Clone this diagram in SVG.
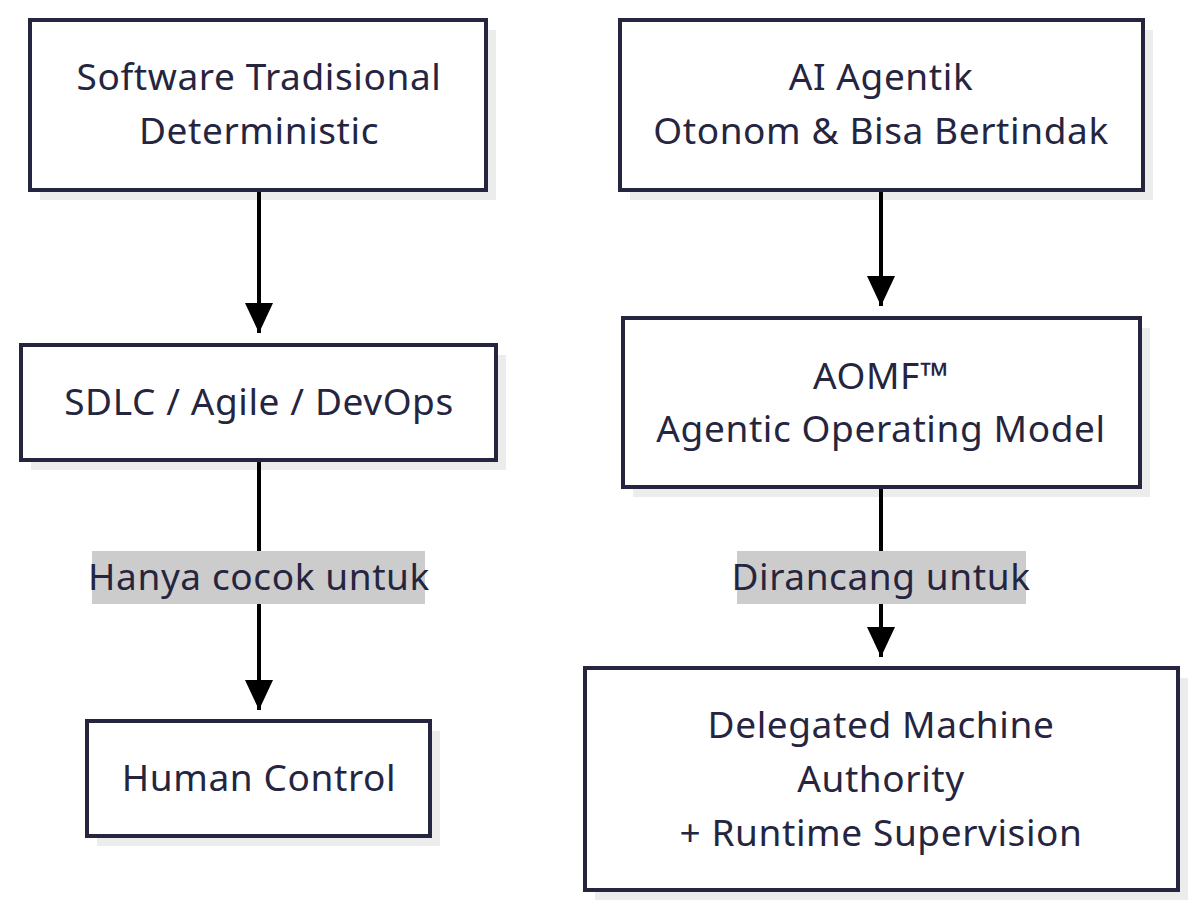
<svg xmlns="http://www.w3.org/2000/svg" width="1200" height="912" viewBox="0 0 1200 912">
<style>
.box{fill:#fff;stroke:#25253f;stroke-width:4}
.shadow{fill:#ececec}
.t{font-family:"Noto Sans","Open Sans",sans-serif;font-size:37px;letter-spacing:0.6px;fill:#25253f;text-anchor:middle}
.edge{stroke:#000;stroke-width:4;fill:none}
.lbl{fill:#cccccc}
</style>
<defs>
<marker id="ah" viewBox="0 0 30 28" refX="30" refY="14" markerWidth="30" markerHeight="28" markerUnits="userSpaceOnUse" orient="auto">
<path d="M0,0 L30,14 L0,28 Z" fill="#000"/>
</marker>
</defs>
<rect width="1200" height="912" fill="#fff"/>
<g id="n1">
<rect class="shadow" x="40" y="30" width="456" height="170"/>
<rect class="box" x="30" y="20" width="456" height="170"/>
<text class="t" x="259" y="90">Software Tradisional</text>
<text class="t" x="259" y="144">Deterministic</text>
</g>
<g id="n2">
<rect class="shadow" x="31" y="355" width="475" height="115"/>
<rect class="box" x="21" y="345" width="475" height="115"/>
<text class="t" x="259" y="415">SDLC / Agile / DevOps</text>
</g>
<g id="n3">
<rect class="shadow" x="97" y="731" width="343" height="115"/>
<rect class="box" x="87" y="721" width="343" height="115"/>
<text class="t" x="259" y="791">Human Control</text>
</g>
<g id="n4">
<rect class="shadow" x="630" y="30" width="523" height="170"/>
<rect class="box" x="620" y="20" width="523" height="170"/>
<text class="t" x="881" y="90">AI Agentik</text>
<text class="t" x="881" y="144">Otonom &amp; Bisa Bertindak</text>
</g>
<g id="n5">
<rect class="shadow" x="633" y="328" width="517" height="169"/>
<rect class="box" x="623" y="318" width="517" height="169"/>
<text class="t" x="881" y="389">AOMF™</text>
<text class="t" x="881" y="442">Agentic Operating Model</text>
</g>
<g id="n6">
<rect class="shadow" x="595" y="678" width="593" height="222"/>
<rect class="box" x="585" y="668" width="593" height="222"/>
<text class="t" x="881" y="738">Delegated Machine</text>
<text class="t" x="881" y="792">Authority</text>
<text class="t" x="881" y="846">+ Runtime Supervision</text>
</g>
<g id="connectors">
<path class="edge" d="M259,192 V333" marker-end="url(#ah)"/>
<path class="edge" d="M881,192 V306" marker-end="url(#ah)"/>
<path class="edge" d="M259,462 V710" marker-end="url(#ah)"/>
<path class="edge" d="M881,489 V657" marker-end="url(#ah)"/>
<rect class="lbl" x="92" y="551" width="333" height="53"/>
<text class="t" x="259" y="590">Hanya cocok untuk</text>
<rect class="lbl" x="737" y="551" width="289" height="53"/>
<text class="t" x="881" y="590">Dirancang untuk</text>
</g>
</svg>
